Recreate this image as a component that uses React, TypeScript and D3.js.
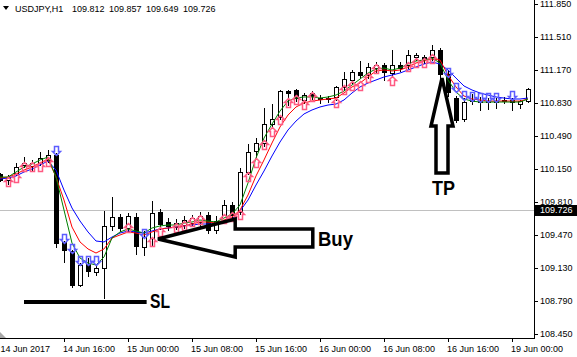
import React from "react";
import * as d3 from "d3";

const W = 577;
const H = 357;

// ---- header ----
const symbolLabel = "USDJPY,H1";
const headerValues = ["109.812", "109.857", "109.649", "109.726"];
const lastPrice = 109.726;

// ---- axes ----
const timeLabels = [
  "14 Jun 2017", "14 Jun 16:00", "15 Jun 00:00", "15 Jun 08:00", "15 Jun 16:00",
  "16 Jun 00:00", "16 Jun 08:00", "16 Jun 16:00", "19 Jun 00:00",
];
const timeLabelBars = [0, 8, 16, 24, 32, 40, 48, 56, 64];
const priceTicks = [111.85, 111.51, 111.17, 110.83, 110.49, 110.15, 109.81, 109.47, 109.13, 108.79, 108.45];

// ---- candles (H1) ----
const opens = [
  110.095, 110.033, 110.106, 110.188, 110.178, 110.209, 110.240, 110.291, 109.395, 109.302,
  108.952, 109.168, 109.086, 109.127, 109.560, 109.652, 109.539, 109.652, 109.343, 109.436,
  109.704, 109.601, 109.549, 109.570, 109.590, 109.601, 109.673, 109.518, 109.621, 109.776,
  109.704, 110.116, 110.332, 110.415, 110.610, 110.683, 110.950, 110.961, 110.858, 110.930,
  110.878, 110.868, 110.889, 110.992, 111.064, 111.146, 111.115, 111.187, 111.218, 111.136,
  111.218, 111.218, 111.301, 111.301, 111.301, 111.373, 111.126, 110.878, 110.662, 110.858,
  110.847, 110.837, 110.847, 110.858, 110.858, 110.816, 110.847,
];
const highs = [
  110.106, 110.085, 110.209, 110.270, 110.240, 110.322, 110.343, 110.312, 109.405, 109.312,
  109.178, 109.230, 109.158, 109.714, 109.858, 109.683, 109.693, 109.693, 109.508, 109.817,
  109.735, 109.642, 109.632, 109.663, 109.673, 109.704, 109.704, 109.663, 109.827, 109.807,
  110.157, 110.404, 110.466, 110.775, 110.816, 110.961, 110.961, 110.971, 110.930, 110.950,
  110.909, 110.899, 111.002, 111.146, 111.167, 111.260, 111.239, 111.249, 111.239, 111.373,
  111.249, 111.373, 111.342, 111.321, 111.424, 111.393, 111.167, 110.899, 110.878, 110.920,
  110.889, 110.878, 110.878, 110.889, 110.878, 110.858, 110.981,
];
const lows = [
  110.023, 109.992, 110.085, 110.167, 110.136, 110.188, 110.219, 109.343, 109.189, 108.931,
  108.941, 109.044, 109.055, 108.818, 109.518, 109.508, 109.498, 109.271, 109.261, 109.364,
  109.529, 109.518, 109.529, 109.539, 109.560, 109.560, 109.487, 109.487, 109.601, 109.652,
  109.683, 110.095, 110.260, 110.384, 110.569, 110.662, 110.806, 110.847, 110.827, 110.868,
  110.827, 110.837, 110.858, 110.961, 111.033, 111.084, 111.084, 111.146, 111.064, 111.115,
  111.157, 111.187, 111.270, 111.239, 111.270, 111.084, 110.899, 110.631, 110.641, 110.816,
  110.755, 110.765, 110.775, 110.827, 110.755, 110.775, 110.837,
];
const closes = [
  110.033, 110.054, 110.167, 110.209, 110.209, 110.260, 110.291, 109.384, 109.312, 108.952,
  109.158, 109.096, 109.127, 109.560, 109.652, 109.539, 109.663, 109.353, 109.446, 109.693,
  109.580, 109.560, 109.590, 109.621, 109.642, 109.663, 109.518, 109.611, 109.776, 109.673,
  110.116, 110.322, 110.415, 110.610, 110.662, 110.950, 110.930, 110.878, 110.909, 110.899,
  110.868, 110.878, 110.992, 111.074, 111.146, 111.115, 111.198, 111.218, 111.146, 111.218,
  111.187, 111.321, 111.321, 111.270, 111.373, 111.126, 110.940, 110.652, 110.837, 110.847,
  110.837, 110.847, 110.837, 110.847, 110.837, 110.847, 110.971,
];

// ---- moving averages ----
const maGreen = [
  110.064, 110.064, 110.116, 110.167, 110.198, 110.240, 110.270, 110.064, 109.724, 109.384,
  109.230, 109.178, 109.158, 109.240, 109.436, 109.498, 109.529, 109.508, 109.487, 109.539,
  109.560, 109.570, 109.570, 109.590, 109.601, 109.621, 109.611, 109.601, 109.642, 109.683,
  109.776, 110.003, 110.260, 110.466, 110.610, 110.744, 110.847, 110.878, 110.889, 110.889,
  110.878, 110.889, 110.909, 110.950, 111.012, 111.074, 111.136, 111.177, 111.187, 111.167,
  111.187, 111.229, 111.260, 111.270, 111.290, 111.239, 111.064, 110.940, 110.868, 110.847,
  110.837, 110.837, 110.837, 110.837, 110.837, 110.837, 110.868,
];
const maRed = [
  110.054, 110.064, 110.095, 110.136, 110.167, 110.209, 110.250, 110.064, 109.827, 109.549,
  109.395, 109.323, 109.281, 109.323, 109.436, 109.467, 109.498, 109.487, 109.467, 109.498,
  109.529, 109.539, 109.549, 109.560, 109.580, 109.601, 109.601, 109.590, 109.621, 109.652,
  109.724, 109.879, 110.075, 110.240, 110.415, 110.580, 110.703, 110.786, 110.827, 110.847,
  110.858, 110.868, 110.878, 110.930, 110.992, 111.033, 111.095, 111.157, 111.167, 111.157,
  111.167, 111.198, 111.239, 111.260, 111.280, 111.270, 111.115, 110.992, 110.899, 110.868,
  110.858, 110.847, 110.847, 110.847, 110.847, 110.847, 110.868,
];
const maBlue = [
  110.044, 110.054, 110.075, 110.116, 110.147, 110.188, 110.229, 110.136, 109.930, 109.745,
  109.611, 109.498, 109.405, 109.395, 109.446, 109.487, 109.508, 109.498, 109.487, 109.508,
  109.529, 109.539, 109.549, 109.560, 109.570, 109.580, 109.580, 109.580, 109.601, 109.632,
  109.714, 109.827, 109.982, 110.126, 110.281, 110.425, 110.549, 110.641, 110.714, 110.755,
  110.786, 110.806, 110.816, 110.858, 110.930, 110.992, 111.033, 111.064, 111.095, 111.115,
  111.136, 111.167, 111.198, 111.229, 111.249, 111.229, 111.167, 111.084, 111.002, 110.961,
  110.930, 110.909, 110.889, 110.878, 110.868, 110.868, 110.878,
];

// ---- signal arrows ----
const upArrowBars = [1, 2, 3, 4, 5, 6, 16, 19, 20, 22, 23, 24, 25, 28, 29, 30, 31, 32, 33, 34, 35, 36, 37, 38, 39, 42, 43, 44, 45, 46, 47, 49, 51, 52, 53, 54];
const upArrowPrices = [
  110.064, 110.106, 110.219, 110.219, 110.219, 110.270, 109.590, 109.446, 109.549, 109.590,
  109.611, 109.652, 109.673, 109.683, 109.704, 109.724, 110.116, 110.260, 110.445, 110.580,
  110.703, 110.878, 110.909, 110.858, 110.940, 110.878, 111.012, 111.053, 111.053, 111.136,
  111.229, 111.105, 111.249, 111.290, 111.290, 111.332,
];
const downArrowBars = [7, 8, 9, 10, 11, 12, 18, 56, 57, 58, 59, 60, 61, 62, 64];
const downArrowPrices = [
  110.291, 109.384, 109.281, 109.158, 109.158, 109.158, 109.436, 111.095, 110.940, 110.858,
  110.847, 110.837, 110.837, 110.837, 110.858,
];

// ---- hand-drawn annotations (bar index, price) ----
const slLineBars = [3, 18.33];
const slLinePrice = 108.777;
const slText = { label: "SL", bar: 18.75, price: 108.715 };
const buyArrowBars = [19.75, 29.4, 29.4, 39.1, 39.1, 29.4, 29.4];
const buyArrowPrices = [109.426, 109.632, 109.529, 109.529, 109.343, 109.343, 109.24];
const buyText = { label: "Buy", bar: 39.75, price: 109.353 };
const tpArrowBars = [55.25, 56.625, 56.0, 56.0, 54.5, 54.5, 53.875];
const tpArrowPrices = [111.084, 110.59, 110.59, 110.106, 110.106, 110.59, 110.59];
const tpText = { label: "TP", bar: 54.0, price: 109.879 };

const FONT = "'Liberation Sans', Arial, sans-serif";

export default function App() {
  const n = closes.length;
  const x = d3.scaleLinear().domain([0, n - 1]).range([0, (n - 1) * 8]);
  const y = d3.scaleLinear().domain([108.45, 111.85]).range([333.7, 3.7]);
  const axisX = 534;
  const axisY = 338;

  const line = d3
    .line<number>()
    .x((_, i) => x(i))
    .y((d) => y(d));

  const upPath = (cx: number, ty: number) =>
    `M${cx},${ty} L${cx + 4},${ty + 4} L${cx + 2},${ty + 4} L${cx + 2},${ty + 9} L${cx - 2},${ty + 9} L${cx - 2},${ty + 4} L${cx - 4},${ty + 4} Z`;
  const downPath = (cx: number, ty: number) =>
    `M${cx},${ty} L${cx + 4},${ty - 4} L${cx + 2},${ty - 4} L${cx + 2},${ty - 9} L${cx - 2},${ty - 9} L${cx - 2},${ty - 4} L${cx - 4},${ty - 4} Z`;

  const poly = (bars: number[], prices: number[]) =>
    bars.map((b, i) => `${x(b)},${y(prices[i])}`).join(" ");

  return (
    <svg
      width={W}
      height={H}
      style={{ position: "fixed", left: 0, top: 0, background: "#fff" }}
      fontFamily={FONT}
    >
      <rect x={0} y={0} width={W} height={H} fill="#fff" />

      {/* bid line */}
      <line x1={0} x2={axisX} y1={Math.round(y(lastPrice)) + 0.5} y2={Math.round(y(lastPrice)) + 0.5} stroke="#c0c0c0" strokeWidth={1} />

      {/* candles */}
      <g shapeRendering="crispEdges">
        {closes.map((c, i) => {
          const xi = Math.round(x(i));
          const o = opens[i];
          const top = Math.round(y(Math.max(o, c)));
          const bot = Math.round(y(Math.min(o, c)));
          const bull = c >= o;
          return (
            <g key={i}>
              <line x1={xi + 0.5} x2={xi + 0.5} y1={Math.round(y(highs[i]))} y2={Math.round(y(lows[i])) + 1} stroke="#000" />
              <rect
                x={xi - 2 + 0.5}
                y={top + 0.5}
                width={4}
                height={Math.max(bot - top, 0.01)}
                fill={bull ? "#fff" : "#000"}
                stroke="#000"
              />
            </g>
          );
        })}
      </g>

      {/* moving averages */}
      <path d={line(maBlue) || ""} fill="none" stroke="#0000ff" strokeWidth={1} />
      <path d={line(maRed) || ""} fill="none" stroke="#ff0000" strokeWidth={1} />
      <path d={line(maGreen) || ""} fill="none" stroke="#008000" strokeWidth={1} />

      {/* signal arrows */}
      {upArrowBars.map((b, i) => (
        <path key={"u" + i} d={upPath(Math.round(x(b)) + 0.5, Math.round(y(upArrowPrices[i])) + 0.5)} fill="none" stroke="#ff5a82" strokeWidth={1.5} />
      ))}
      {downArrowBars.map((b, i) => (
        <path key={"d" + i} d={downPath(Math.round(x(b)) + 0.5, Math.round(y(downArrowPrices[i])) + 0.5)} fill="none" stroke="#5c5cff" strokeWidth={1.5} />
      ))}

      {/* annotations */}
      <line x1={x(slLineBars[0])} x2={x(slLineBars[1])} y1={y(slLinePrice)} y2={y(slLinePrice)} stroke="#000" strokeWidth={4} />
      <polygon points={poly(buyArrowBars, buyArrowPrices)} fill="none" stroke="#000" strokeWidth={3.5} strokeLinejoin="miter" />
      <polygon points={poly(tpArrowBars, tpArrowPrices)} fill="none" stroke="#000" strokeWidth={3.5} strokeLinejoin="miter" />
      <text x={x(slText.bar)} y={y(slText.price)} fontSize={20} fontWeight="bold" textLength={20} lengthAdjust="spacingAndGlyphs">{slText.label}</text>
      <text x={x(buyText.bar)} y={y(buyText.price)} fontSize={20} fontWeight="bold" textLength={35} lengthAdjust="spacingAndGlyphs">{buyText.label}</text>
      <text x={x(tpText.bar)} y={y(tpText.price)} fontSize={20} fontWeight="bold" textLength={23} lengthAdjust="spacingAndGlyphs">{tpText.label}</text>

      {/* header */}
      <polygon points="3,6 9,6 6,10" fill="#000" />
      <text x={15} y={12} fontSize={9} fill="#000">{symbolLabel}</text>
      {headerValues.map((v, i) => (
        <text key={v + i} x={72 + i * 37} y={12} fontSize={9} fill="#000">{v}</text>
      ))}

      {/* axes frame */}
      <g shapeRendering="crispEdges">
        <line x1={axisX + 0.5} x2={axisX + 0.5} y1={0} y2={axisY + 1} stroke="#000" />
        <line x1={0} x2={axisX + 1} y1={axisY + 0.5} y2={axisY + 0.5} stroke="#000" />
        {priceTicks.map((p) => (
          <line key={"pt" + p} x1={axisX} x2={axisX + 4} y1={Math.round(y(p)) + 0.5} y2={Math.round(y(p)) + 0.5} stroke="#000" />
        ))}
        {timeLabelBars.slice(1).map((b) => (
          <line key={"tt" + b} x1={Math.round(x(b)) + 0.5} x2={Math.round(x(b)) + 0.5} y1={axisY} y2={axisY + 4} stroke="#000" />
        ))}
      </g>
      <polygon points={`0,${axisY - 6} 6,${axisY} 0,${axisY}`} fill="#a8a8a8" />

      {priceTicks.map((p) => (
        <text key={"pl" + p} x={540} y={y(p) + 3.2} fontSize={9} fill="#000">{p.toFixed(3)}</text>
      ))}
      {timeLabels.map((t, i) => (
        <text key={t} x={Math.max(x(timeLabelBars[i]) - 1, 0.5)} y={352} fontSize={9} fill="#000">{t}</text>
      ))}

      {/* last price tag */}
      <rect x={535} y={Math.round(y(lastPrice)) - 5} width={42} height={11} fill="#000" />
      <text x={540} y={y(lastPrice) + 3.2} fontSize={9} fill="#fff">{lastPrice.toFixed(3)}</text>
    </svg>
  );
}
